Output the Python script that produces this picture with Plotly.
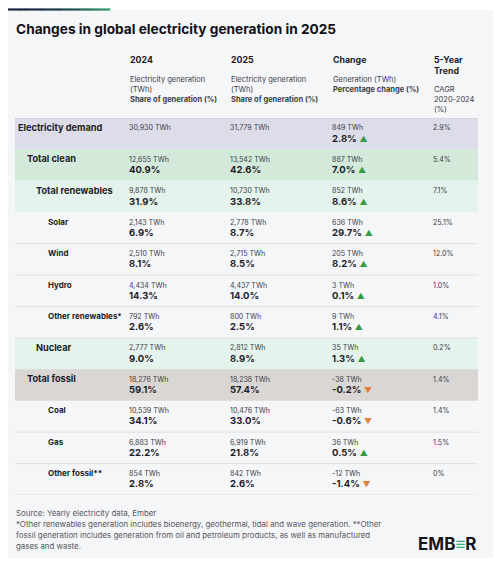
import plotly.graph_objects as go

# ---------------- data ----------------
categories = ["Electricity demand", "Total clean", "Total renewables", "Solar", "Wind",
              "Hydro", "Other renewables*", "Nuclear", "Total fossil", "Coal", "Gas",
              "Other fossil**"]
levels = [0, 1, 2, 3, 3, 3, 3, 2, 1, 3, 3, 3]
gen_2024 = [30930, 12655, 9878, 2143, 2510, 4434, 792, 2777, 18276, 10539, 6883, 854]
share_2024 = [None, 40.9, 31.9, 6.9, 8.1, 14.3, 2.6, 9.0, 59.1, 34.1, 22.2, 2.8]
gen_2025 = [31779, 13542, 10730, 2778, 2715, 4437, 800, 2812, 18238, 10476, 6919, 842]
share_2025 = [None, 42.6, 33.8, 8.7, 8.5, 14.0, 2.5, 8.9, 57.4, 33.0, 21.8, 2.6]
change_twh = [849, 887, 852, 636, 205, 3, 9, 35, -38, -63, 36, -12]
change_pct = [2.8, 7.0, 8.6, 29.7, 8.2, 0.1, 1.1, 1.3, -0.2, -0.6, 0.5, -1.4]
cagr_labels = ["2.9%", "5.4%", "7.1%", "25.1%", "12.0%", "1.0%", "4.1%", "0.2%",
               "1.4%", "1.4%", "1.5%", "0%"]

title = "Changes in global electricity generation in 2025"
col_heads = ["2024", "2025", "Change", "5-Year<br>Trend"]
col_subs = ["Electricity generation<br>(TWh)<br><b>Share of generation (%)</b>",
            "Electricity generation<br>(TWh)<br><b>Share of generation (%)</b>",
            "Generation (TWh)<br><b>Percentage change (%)</b>",
            "CAGR<br>2020-2024<br>(%)"]
footer_lines = ["Source: Yearly electricity data, Ember",
                "*Other renewables generation includes bioenergy, geothermal, tidal and wave generation. **Other",
                "fossil generation includes generation from oil and petroleum products, as well as manufactured",
                "gases and waste."]

# ---------------- style ----------------
W, H = 500, 563
FONT = "Inter, 'Noto Sans', sans-serif"
DARK = "#1c1c28"
GREY_TXT = "#3c3c46"
UP = "#3a9a43"
DOWN = "#e0803c"
row_fills = ["#dddce9", "#d3eadb", "#e4f3eb", None, None, None, None,
             "#e4f3eb", "#dad6d3", None, None, None]
indent_x = {0: 18, 1: 27, 2: 36, 3: 48}
label_size = {0: 9.2, 1: 9.2, 2: 9.2, 3: 8.0}
col_x = [129, 230, 332, 433]
TOP_PX, BOT_PX = 118, 495
L1, L2 = -0.16, 0.18   # line offsets inside a row (row units)


def py(p):
    return 1 - p / H


n = len(categories)
rows = list(range(n))

fig = go.Figure()

# labels
fig.add_trace(go.Scatter(
    x=[indent_x[l] for l in levels], y=[r + L1 for r in rows],
    text=[f"<b>{c}</b>" for c in categories], mode="text", textposition="middle right",
    textfont=dict(family=FONT, size=[label_size[l] for l in levels], color=DARK),
    hoverinfo="skip", cliponaxis=False, showlegend=False))

# generation columns
for xi, gen, share in [(col_x[0], gen_2024, share_2024), (col_x[1], gen_2025, share_2025)]:
    fig.add_trace(go.Scatter(
        x=[xi] * n, y=[r + L1 for r in rows], text=[f"{v:,} TWh" for v in gen],
        mode="text", textposition="middle right",
        textfont=dict(family=FONT, size=7.1, color=GREY_TXT),
        hoverinfo="skip", cliponaxis=False, showlegend=False))
    idx = [i for i in rows if share[i] is not None]
    fig.add_trace(go.Scatter(
        x=[xi] * len(idx), y=[i + L2 for i in idx], text=[f"<b>{share[i]:.1f}%</b>" for i in idx],
        mode="text", textposition="middle right",
        textfont=dict(family=FONT, size=9.5, color=DARK),
        hoverinfo="skip", cliponaxis=False, showlegend=False))

# change column
fig.add_trace(go.Scatter(
    x=[col_x[2]] * n, y=[r + L1 for r in rows], text=[f"{v:,} TWh" for v in change_twh],
    mode="text", textposition="middle right",
    textfont=dict(family=FONT, size=7.1, color=GREY_TXT),
    hoverinfo="skip", cliponaxis=False, showlegend=False))


def pct_txt(p):
    arrow = (f"<span style='color:{UP};font-size:8px'>▲</span>" if p >= 0
             else f"<span style='color:{DOWN};font-size:8px'>▼</span>")
    return f"<b>{p:.1f}%</b> {arrow}"


fig.add_trace(go.Scatter(
    x=[col_x[2]] * n, y=[r + L2 for r in rows], text=[pct_txt(p) for p in change_pct],
    mode="text", textposition="middle right",
    textfont=dict(family=FONT, size=9.5, color=DARK),
    hoverinfo="skip", cliponaxis=False, showlegend=False))

# cagr column
fig.add_trace(go.Scatter(
    x=[col_x[3]] * n, y=[r + L1 for r in rows], text=cagr_labels,
    mode="text", textposition="middle right",
    textfont=dict(family=FONT, size=7.1, color=GREY_TXT),
    hoverinfo="skip", cliponaxis=False, showlegend=False))

# ---------------- shapes ----------------
shapes = []
# card
shapes.append(dict(type="rect", xref="paper", yref="paper", x0=8 / W, x1=493 / W,
                   y0=py(558), y1=py(10), fillcolor="#f5f6f8", line=dict(width=0), layer="below"))
# top gradient bar
navy = (27, 38, 66)
green = (46, 158, 108)
segs = 24
for k in range(segs):
    t = (k / (segs - 1)) ** 2.2
    c = tuple(int(navy[j] + (green[j] - navy[j]) * t) for j in range(3))
    x0 = 8 + (110 - 8) * k / segs
    x1 = 8 + (110 - 8) * (k + 1) / segs + 0.3
    shapes.append(dict(type="rect", xref="paper", yref="paper", x0=x0 / W, x1=x1 / W,
                       y0=py(10.6), y1=py(8.4), fillcolor=f"rgb{c}", line=dict(width=0),
                       layer="below"))
# row bands
for i, f in enumerate(row_fills):
    if f:
        shapes.append(dict(type="rect", xref="x", yref="y", x0=15, x1=478,
                           y0=i - 0.5, y1=i + 0.5, fillcolor=f, line=dict(width=0),
                           layer="below"))
# separators
for i, l in enumerate(levels):
    if l == 3:
        shapes.append(dict(type="line", xref="x", yref="y", x0=15, x1=478,
                           y0=i + 0.5, y1=i + 0.5, line=dict(color="#e1e1e4", width=1),
                           layer="below"))
# header bottom line
shapes.append(dict(type="line", xref="x", yref="y", x0=15, x1=478, y0=-0.5, y1=-0.5,
                   line=dict(color="#cdcdd3", width=1.2), layer="below"))

# ---------------- annotations ----------------
ann = []
ann.append(dict(text=f"<b>{title}</b>", x=14 / W, y=py(29), xref="paper", yref="paper",
                xanchor="left", yanchor="middle", showarrow=False,
                font=dict(family=FONT, size=13.7, color="#111118")))
head_y = [py(60), py(60), py(60), py(65)]
sub_y = [py(73), py(73), py(73), py(83)]
for k in range(4):
    ann.append(dict(text=f"<b>{col_heads[k]}</b>", x=(col_x[k] - 1) / W, y=head_y[k], xref="paper",
                    yref="paper", xanchor="left", yanchor="middle", align="left",
                    showarrow=False, font=dict(family=FONT, size=8.8, color=DARK)))
    ann.append(dict(text=col_subs[k], x=(col_x[k] - 1) / W, y=sub_y[k], xref="paper",
                    yref="paper", xanchor="left", yanchor="top", align="left",
                    showarrow=False, font=dict(family=FONT, size=7.5, color=GREY_TXT)))
foot_y = [513, 524, 535, 546]
for line, fy in zip(footer_lines, foot_y):
    ann.append(dict(text=line, x=14 / W, y=py(fy), xref="paper", yref="paper",
                    xanchor="left", yanchor="middle", showarrow=False,
                    font=dict(family=FONT, size=7.9, color="#55555e")))
ann.append(dict(text="<b>EMB<span style='color:#2fb277'>≡</span>R</b>", x=479 / W, y=py(543.5),
                xref="paper", yref="paper", xanchor="right", yanchor="middle",
                showarrow=False, font=dict(family=FONT, size=17, color="#15151c")))

fig.update_layout(
    width=W, height=H, margin=dict(l=0, r=0, t=0, b=0),
    paper_bgcolor="white", plot_bgcolor="rgba(0,0,0,0)",
    shapes=shapes, annotations=ann, showlegend=False,
    xaxis=dict(range=[0, W], domain=[0, 1], visible=False, fixedrange=True),
    yaxis=dict(range=[n - 0.5, -0.5], domain=[py(BOT_PX), py(TOP_PX)], visible=False,
               fixedrange=True),
)

fig.write_html("out.html", config={"displayModeBar": False},
               post_script="document.body.style.margin='0px';")
